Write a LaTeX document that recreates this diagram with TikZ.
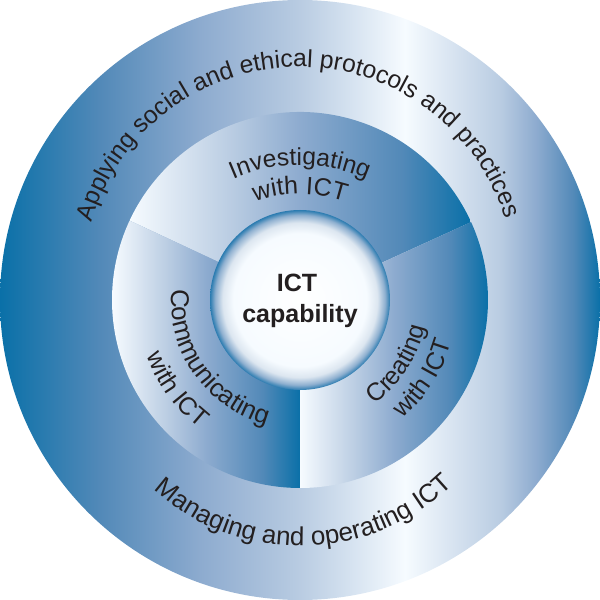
\documentclass[tikz,border=0pt]{standalone}
\usepackage{fontspec}
\setmainfont{Liberation Sans}
\usetikzlibrary{decorations.text}
\definecolor{ink}{HTML}{231F20}
\definecolor{deep}{HTML}{0A70A8}
\definecolor{pale}{HTML}{F6FBFF}
\definecolor{bluea}{HTML}{5289B8}
\definecolor{blueb}{HTML}{8DABCF}
\definecolor{bluec}{HTML}{B9CCE2}
\definecolor{blued}{HTML}{D5E2F0}
\definecolor{rim}{HTML}{2A7BB0}
\definecolor{rimb}{HTML}{8FB0D0}
\definecolor{rimc}{HTML}{DCE6F0}
% stops: picture span maps to 25bp..75bp of the shading
\pgfdeclarehorizontalshading{outerfade}{100bp}{
  color(0bp)=(deep); color(25bp)=(deep); color(33.3bp)=(bluea); color(41.7bp)=(blueb);
  color(50bp)=(bluec); color(54.2bp)=(blued); color(58.75bp)=(pale);
  color(66.7bp)=(bluec); color(69.7bp)=(blueb); color(72.8bp)=(bluea); color(75bp)=(deep); color(100bp)=(deep)}
\pgfdeclarehorizontalshading{sectorfade}{100bp}{
  color(0bp)=(pale); color(25bp)=(pale); color(40bp)=(bluec); color(50bp)=(blueb);
  color(65bp)=(bluea); color(75bp)=(deep); color(100bp)=(deep)}
\pgfdeclareradialshading{hubfade}{\pgfpoint{0bp}{0bp}}{
  color(0bp)=(white); color(18.5bp)=(pale); color(21.5bp)=(rimc); color(23.6bp)=(rimb);
  color(25bp)=(rim); color(50bp)=(rim)}
\newcommand\ringtext[1]{\fontsize{#1bp}{28bp}\selectfont\color{ink}}
\tikzset{
  curved/.style 2 args={decorate,decoration={text along path,text align=center,text={|\ringtext{#1}|#2}}},
  hublabel/.style={align=center,font=\fontsize{25bp}{31bp}\selectfont\bfseries,text=ink}
}
\begin{document}
\begin{tikzpicture}[x=1bp,y=1bp]
\useasboundingbox (-300,-300) rectangle (300,300);
\shade[shading=outerfade] (0,0) circle (300);
\begin{scope}
  \clip (0,0) -- (24.5:188) arc (24.5:155:188) -- cycle;
  \shade[shading=sectorfade] (-170,-10) rectangle (170,190);
\end{scope}
\begin{scope}
  \clip (0,0) -- (155:188) arc (155:270:188) -- cycle;
  \shade[shading=sectorfade] (-188,-190) rectangle (0,90);
\end{scope}
\begin{scope}
  \clip (0,0) -- (270:188) arc (270:384.5:188) -- cycle;
  \shade[shading=sectorfade] (0,-190) rectangle (188,90);
\end{scope}
\shade[shading=hubfade] (0,0) circle (90);
\node[hublabel] (hub) at (0,-1) {ICT\hspace*{6bp}\\capability};
\path[shift={(-1,17)},curved={24.7}{Applying social and ethical protocols and practices}] (172:216) arc (172:9:216);
\path[shift={(0.5,-26)},curved={26}{Managing and operating ICT}] (216:220) arc (216:326:220);
\path[shift={(0,-30)},curved={24.5}{Investigating}] (130:165) arc (130:50:165);
\path[shift={(0,-35)},curved={25}{with ICT}] (125:141) arc (125:55:141);
\path[curved={25.8}{Communicating}] (151:129) arc (151:279:129);
\path[curved={25}{with ICT}] (170:163) arc (170:262:163);
\path[curved={25}{Creating}] (-85.5:128) arc (-85.5:18.5:128);
\path[curved={25}{with ICT}] (-82:157) arc (-82:17.2:157);
\end{tikzpicture}
\end{document}
